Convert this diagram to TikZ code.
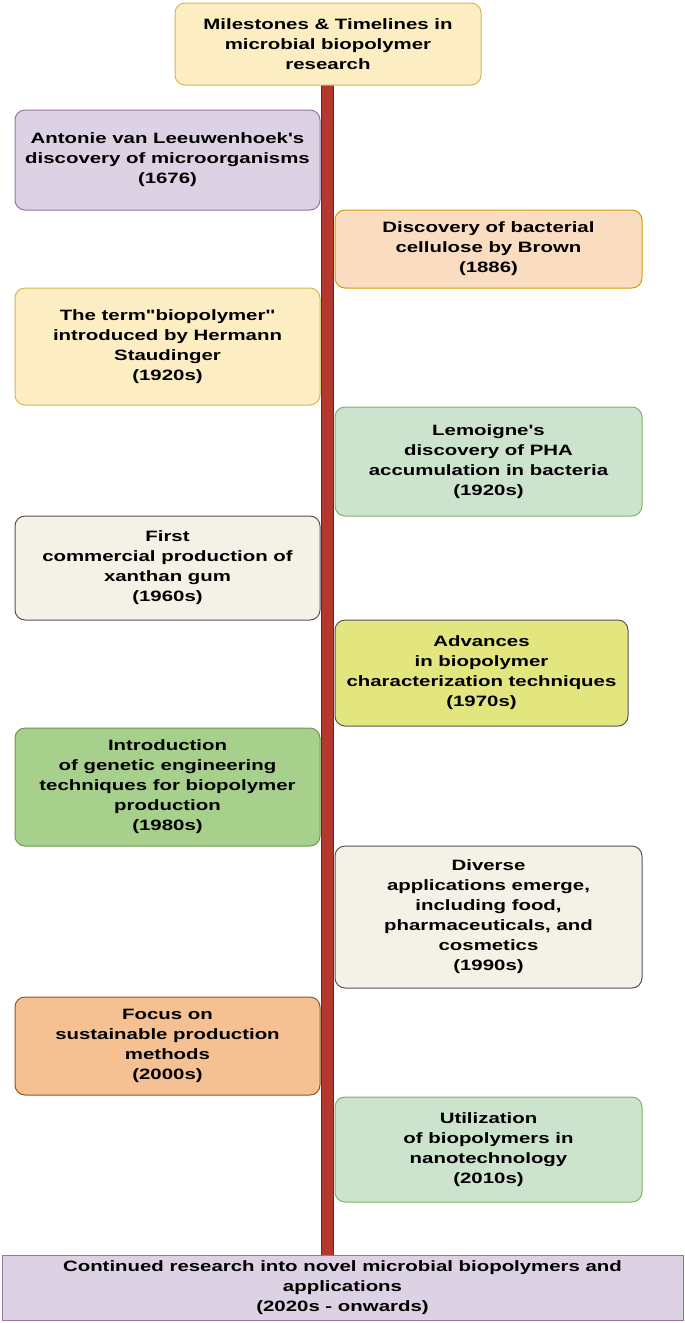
\documentclass[tikz,border=0pt]{standalone}
\usepackage{fontspec}
\setmainfont{Liberation Sans}[Ligatures=TeXOff,FakeStretch=1.36]
\definecolor{purf}{HTML}{DCD2E4}\definecolor{purd}{HTML}{9673A6}
\definecolor{yelf}{HTML}{FCEEC2}\definecolor{yeld}{HTML}{D6B656}
\definecolor{orf}{HTML}{FADCC0}\definecolor{ord}{HTML}{D79B00}
\definecolor{grf}{HTML}{CCE3CE}\definecolor{grd}{HTML}{82B366}
\definecolor{crf}{HTML}{F4F2E6}\definecolor{grayd}{HTML}{555555}
\definecolor{limf}{HTML}{E3E67E}
\definecolor{g2f}{HTML}{A8D08D}\definecolor{g2d}{HTML}{6A9A50}
\definecolor{o2f}{HTML}{F5C193}\definecolor{o2d}{HTML}{8A5A20}
\definecolor{barf}{HTML}{B5382F}\definecolor{bard}{HTML}{7A1F1A}
\begin{document}
\begin{tikzpicture}[x=1pt,y=1pt,
  box/.style={rounded corners=10pt, line width=1pt, align=center, font=\bfseries\fontsize{15}{20}\selectfont, inner sep=2pt},
  bar/.style={fill=barf, draw=bard, line width=0.8pt}]
\useasboundingbox (0,0) rectangle (685,-1323);
\path[bar] (321,-85) rectangle (333,-1256);
\node[box, fill=yelf, draw=yeld, minimum width=306pt, minimum height=82pt] (title) at (328,-44) {Milestones \& Timelines in\\ microbial biopolymer\\ research};
\node[box, fill=purf, draw=purd, minimum width=305pt, minimum height=100pt] (b1) at (167.5,-160) {Antonie van Leeuwenhoek's\\ discovery of microorganisms\\ (1676)};
\node[box, fill=orf, draw=ord, minimum width=307pt, minimum height=78pt] (b2) at (488.5,-249) {Discovery of bacterial\\ cellulose by Brown\\ (1886)};
\node[box, fill=yelf, draw=yeld, minimum width=305pt, minimum height=117pt] (b3) at (167.5,-346.5) {The term"biopolymer''\\ introduced by Hermann\\ Staudinger\\ (1920s)};
\node[box, fill=grf, draw=grd, minimum width=307pt, minimum height=109pt] (b4) at (488.5,-461.5) {Lemoigne's\\ discovery of PHA\\ accumulation in bacteria\\ (1920s)};
\node[box, fill=crf, draw=grayd, minimum width=305pt, minimum height=104pt] (b5) at (167.5,-568) {First\\ commercial production of\\ xanthan gum\\ (1960s)};
\node[box, fill=limf, draw=grayd, minimum width=293pt, minimum height=106pt] (b6) at (481.5,-673) {Advances\\ in biopolymer\\ characterization techniques\\ (1970s)};
\node[box, fill=g2f, draw=g2d, minimum width=305pt, minimum height=118pt] (b7) at (167.5,-787) {Introduction\\ of genetic engineering\\ techniques for biopolymer\\ production\\ (1980s)};
\node[box, fill=crf, draw=grayd, minimum width=307pt, minimum height=142pt] (b8) at (488.5,-917) {Diverse\\ applications emerge,\\ including food,\\ pharmaceuticals, and\\ cosmetics\\ (1990s)};
\node[box, fill=o2f, draw=o2d, minimum width=305pt, minimum height=98pt] (b9) at (167.5,-1046) {Focus on\\ sustainable production\\ methods\\ (2000s)};
\node[box, fill=grf, draw=grd, minimum width=307pt, minimum height=105pt] (b10) at (488.5,-1149.5) {Utilization\\ of biopolymers in\\ nanotechnology\\ (2010s)};
\node[box, rounded corners=0pt, fill=purf, draw=purd, minimum width=681pt, minimum height=65pt] (bot) at (342.5,-1288) {Continued research into novel microbial biopolymers and\\ applications\\ (2020s - onwards)};
\end{tikzpicture}
\end{document}
